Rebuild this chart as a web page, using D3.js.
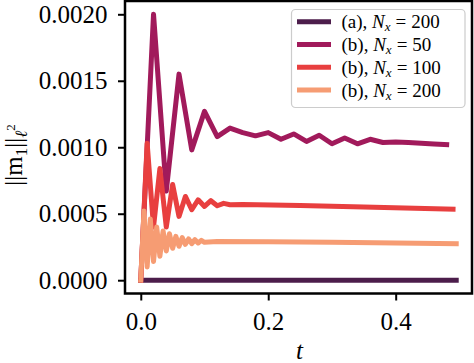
<!DOCTYPE html>
<html lang="en">
<head>
    <meta charset="UTF-8">
    <title>m1 norm</title>
    <style>
        body { margin: 0; background: #fff; }
        svg { display: block; }
        text { font-family: "Liberation Serif", "DejaVu Serif", serif; fill: #000; }
    </style>
</head>
<body>
    <svg width="474" height="363"></svg>
    <script src="https://d3js.org/d3.v7.min.js"></script>
    <script>
        // series: (a) Nx=200, (b) Nx=50, (b) Nx=100, (b) Nx=200
        var tA = [0, 0.495]
        var valA = [0, 0]

        var t50 = [0, 0.02, 0.04, 0.06, 0.08, 0.10, 0.12, 0.14, 0.16, 0.18, 0.20, 0.22, 0.24,
                   0.26, 0.28, 0.30, 0.32, 0.34, 0.36, 0.38, 0.40, 0.42, 0.44, 0.46, 0.48]
        var val50 = [0, 0.00200, 0.00067, 0.00155, 0.00098, 0.00127, 0.00108, 0.001144, 0.00111,
                     0.001086, 0.00111, 0.00106, 0.00110, 0.001044, 0.00109, 0.001026, 0.00107,
                     0.001026, 0.00106, 0.001036, 0.00104, 0.001035, 0.00103, 0.001025, 0.00102]

        var t100 = [0, 0.01, 0.02, 0.03, 0.04, 0.05, 0.06, 0.07, 0.08, 0.09, 0.10, 0.11, 0.12,
                    0.13, 0.14, 0.16, 0.25, 0.35, 0.49]
        var val100 = [0, 0.00103, 0.00040, 0.00084, 0.00040, 0.00072, 0.00048, 0.00063, 0.00053,
                      0.000605, 0.000555, 0.000598, 0.00056, 0.000578, 0.000568,
                      0.00057, 0.000562, 0.00055, 0.000535]

        var t200 = [0, 0.005, 0.01, 0.015, 0.02, 0.025, 0.03, 0.035, 0.04, 0.045, 0.05, 0.055,
                    0.06, 0.065, 0.07, 0.075, 0.08, 0.085, 0.09, 0.095, 0.10, 0.12, 0.2, 0.3, 0.4, 0.495]
        var val200 = [0, 0.00052, 0.00010, 0.00046, 0.00014, 0.00040, 0.00018, 0.00037, 0.00022,
                      0.00035, 0.00024, 0.00033, 0.000255, 0.00032, 0.00027, 0.00031, 0.000275,
                      0.000305, 0.00028, 0.0003, 0.000285, 0.000292, 0.00029, 0.000285, 0.00028, 0.000275]

        var labels = ['(a)', '(b)', '(b)', '(b)']
        var nx = ['200', '50', '100', '200']
        var colors = ['#4c1d4b', '#a11a5b', '#e83f3f', '#f69c73']

        var xTicks = [0, 0.2, 0.4]
        var yTicks = [0, 0.0005, 0.0010, 0.0015, 0.0020]

        var series = [[tA, valA], [t50, val50], [t100, val100], [t200, val200]]

        var pL = 125, pR = 472, pT = 1, pB = 293.5
        var svg = d3.select('svg')

        var x = d3.scaleLinear().domain([-0.02475, 0.51975]).range([pL, pR])
        var y = d3.scaleLinear().domain([-0.0001, 0.0021]).range([pB, pT])

        var line = d3.line()
            .x(function(d){ return x(d[0]) })
            .y(function(d){ return y(d[1]) })

        series.forEach(function(s, i){
            var pts = s[0].map(function(t, j){ return [t, s[1][j]] })
            svg.append('path')
                .attr('d', line(pts))
                .attr('fill', 'none')
                .attr('stroke', colors[i])
                .attr('stroke-width', 5)
                .attr('stroke-linejoin', 'round')
                .attr('stroke-linecap', 'square')
        })

        // axes
        var yAxis = svg.append('g')
            .attr('transform', 'translate(' + pL + ',0)')
            .call(d3.axisLeft(y).tickValues(yTicks).tickFormat(d3.format('.4f')).tickSize(7).tickPadding(10.5))
        var xAxis = svg.append('g')
            .attr('transform', 'translate(0,' + pB + ')')
            .call(d3.axisBottom(x).tickValues(xTicks).tickFormat(d3.format('.1f')).tickSize(7))
        svg.selectAll('.domain').remove()
        svg.selectAll('.tick line').attr('stroke', '#000').attr('stroke-width', 2)
        svg.selectAll('.tick text').attr('font-size', 25).attr('font-family', null)
        xAxis.selectAll('.tick text').attr('dy', null).attr('y', 36.5)

        // frame
        svg.append('rect')
            .attr('x', pL).attr('y', pT)
            .attr('width', pR - pL).attr('height', pB - pT)
            .attr('fill', 'none').attr('stroke', '#000').attr('stroke-width', 2.5)

        // axis labels
        svg.append('text')
            .attr('x', (pL + pR) / 2 + 1).attr('y', 359)
            .attr('text-anchor', 'middle').attr('font-size', 25).attr('font-style', 'italic')
            .text('t')

        var yl = svg.append('text')
            .attr('transform', 'translate(22,155) rotate(-90)')
            .attr('text-anchor', 'middle').attr('font-size', 25)
        yl.append('tspan').text('||m')
        yl.append('tspan').attr('font-size', 17).attr('dy', 5).text('1')
        yl.append('tspan').attr('dy', -5).text('||')
        yl.append('tspan').attr('font-size', 17).attr('font-style', 'italic').attr('dy', 5).text('ℓ')
        yl.append('tspan').attr('font-size', 13).attr('dy', -12).text('2')

        // legend
        var lg = svg.append('g')
        lg.append('rect')
            .attr('x', 291.5).attr('y', 9.5).attr('width', 173.5).attr('height', 98)
            .attr('rx', 4).attr('fill', '#fff').attr('fill-opacity', 0.8)
            .attr('stroke', '#ccc').attr('stroke-width', 1.2)
        labels.forEach(function(lab, i){
            var yy = 21.7 + i * 22.8
            lg.append('line')
                .attr('x1', 297).attr('x2', 331).attr('y1', yy).attr('y2', yy)
                .attr('stroke', colors[i]).attr('stroke-width', 5)
            var tx = lg.append('text').attr('x', 341.5).attr('y', yy + 6.5).attr('font-size', 19)
            tx.append('tspan').text(lab + ', ')
            tx.append('tspan').attr('font-style', 'italic').text('N')
            tx.append('tspan').attr('font-style', 'italic').attr('font-size', 13).attr('dy', 3).text('x')
            tx.append('tspan').attr('dy', -3).attr('dx', 5).text('=')
            tx.append('tspan').attr('dx', 5).text(nx[i])
        })
    </script>
</body>
</html>
